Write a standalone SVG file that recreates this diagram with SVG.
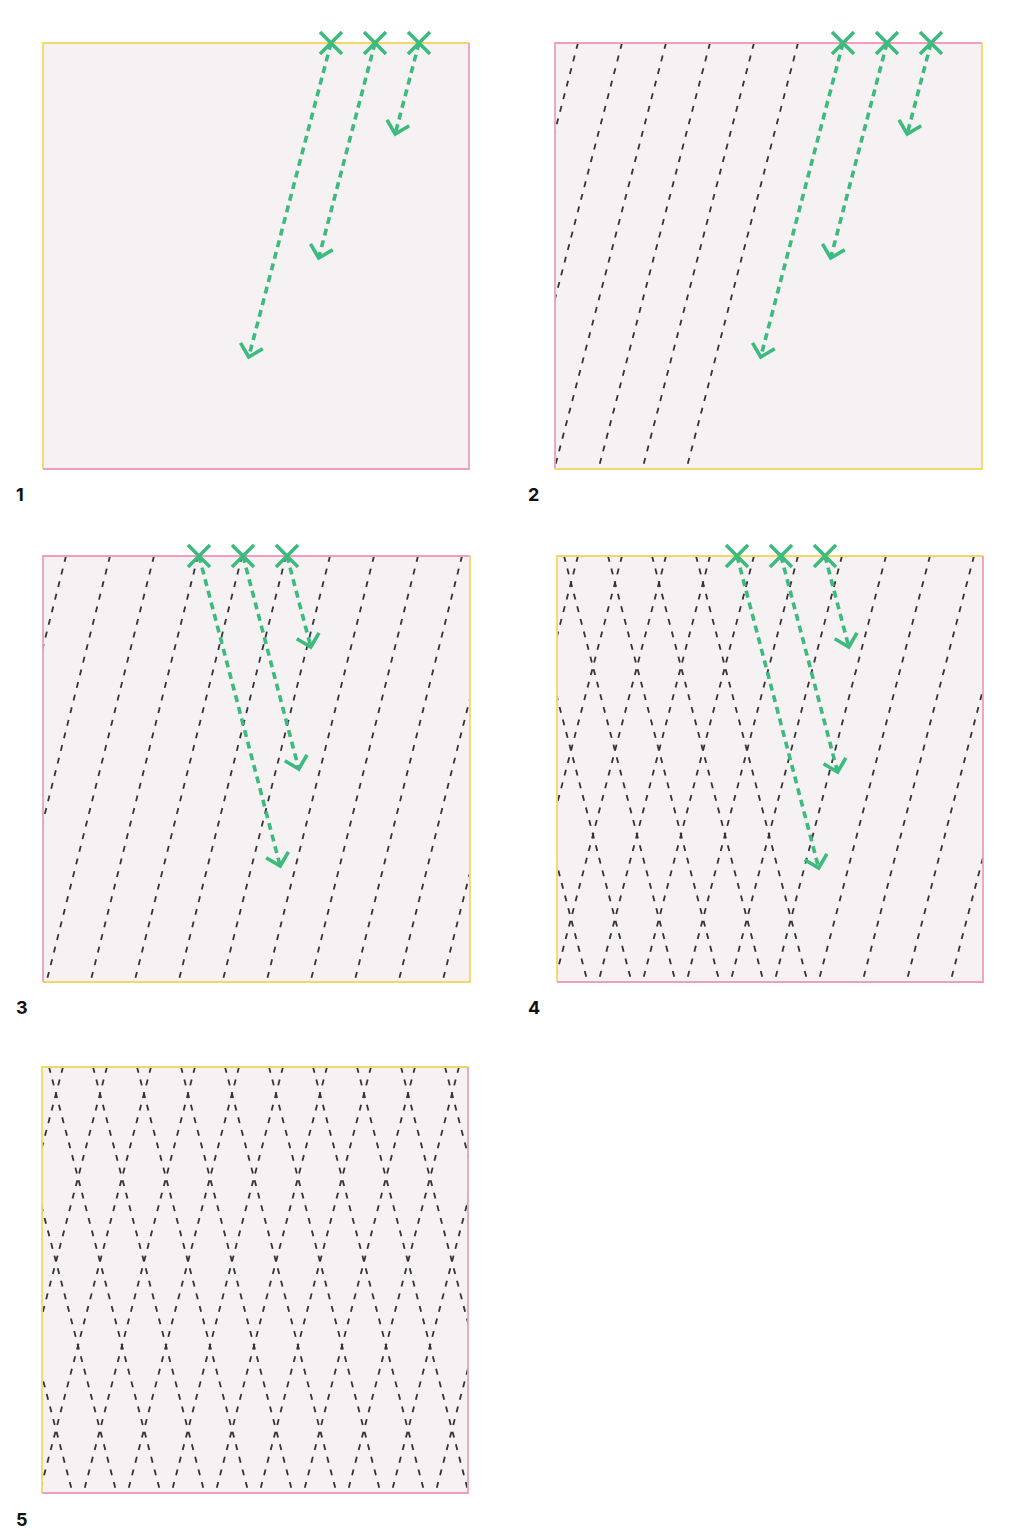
<svg xmlns="http://www.w3.org/2000/svg" xmlns:xlink="http://www.w3.org/1999/xlink" width="1024" height="1536" viewBox="0 0 1024 1536">
<style>
.bg{fill:#f6f2f3;stroke:none}
.y{stroke:#f3d864;stroke-width:1.8;fill:none}
.p{stroke:#ef9ebf;stroke-width:1.8;fill:none}
.d{stroke:#363236;stroke-width:1.8;stroke-dasharray:6 7;fill:none}
.g{stroke:#3dbb7f;stroke-width:3.6;stroke-dasharray:7 5;fill:none;marker-end:url(#chev)}
.x{stroke:#3dbb7f;stroke-width:3.6;fill:none}
.lbl{font-family:Inter,"Liberation Sans",sans-serif;font-weight:700;font-size:18px;fill:#111}
</style>
<defs>
<marker id="chev" viewBox="-16 -16 32 32" markerWidth="32" markerHeight="32" refX="0" refY="0" orient="auto" markerUnits="userSpaceOnUse" overflow="visible">
<path d="M-11.5,-11.5 L0,0 L-11.5,11.5" fill="none" stroke="#3dbb7f" stroke-width="3.6" stroke-dasharray="none"/>
</marker>
<clipPath id="cp" clipPathUnits="userSpaceOnUse"><rect x="0" y="0" width="426" height="426"/></clipPath>
<path id="xm" d="M-11,-11L11,11M11,-11L-11,11"/>
<path id="fwd23" d="M23 0L-84.6 426M67 0L-40.6 426M111 0L3.4 426M155 0L47.4 426M199 0L91.4 426M243 0L135.4 426M287 0L179.4 426M331 0L223.4 426M375 0L267.4 426M419 0L311.4 426M463 0L355.4 426M507 0L399.4 426"/>
<path id="fwd21" d="M21 0L-90.6 426M65 0L-46.6 426M109 0L-2.6 426M153 0L41.4 426M197 0L85.4 426M241 0L129.4 426M285 0L173.4 426M329 0L217.4 426M373 0L261.4 426M417 0L305.4 426M461 0L349.4 426M505 0L393.4 426"/>
</defs>
<rect width="1024" height="1536" fill="#ffffff"/>

<g id="panel1" transform="translate(43,43)">
<rect class="bg" width="426" height="426"/>
<path class="y" d="M0 426V0H426"/>
<path class="p" d="M426 0V426H0"/>
<g id="arrows1">
<path class="g" d="M288 0L205.7 314"/>
<path class="g" d="M332 0L275.7 215"/>
<path class="g" d="M376 0L352.2 91"/>
<use href="#xm" class="x" x="288" y="0"/>
<use href="#xm" class="x" x="332" y="0"/>
<use href="#xm" class="x" x="376" y="0"/>
</g>
</g>
<text class="lbl" x="16" y="501">1</text>

<g id="panel2" transform="translate(555,43)">
<rect class="bg" width="427" height="426"/>
<g clip-path="url(#cp)">
<path class="d" d="M23 0L-88.6 426M67 0L-44.6 426M111 0L-0.6 426M155 0L43.4 426M199 0L87.4 426M243 0L131.4 426"/>
</g>
<path class="p" d="M0 426V0H427"/>
<path class="y" d="M427 0V426H0"/>
<g id="arrows2">
<path class="g" d="M288 0L205.7 314"/>
<path class="g" d="M332 0L275.7 215"/>
<path class="g" d="M376 0L352.2 91"/>
<use href="#xm" class="x" x="288" y="0"/>
<use href="#xm" class="x" x="332" y="0"/>
<use href="#xm" class="x" x="376" y="0"/>
</g>
</g>
<text class="lbl" x="528" y="501">2</text>

<g id="panel3" transform="translate(43,556)">
<rect class="bg" width="427" height="426"/>
<g clip-path="url(#cp)">
<use href="#fwd23" class="d"/>
</g>
<path class="p" d="M0 426V0H427"/>
<path class="y" d="M427 0V426H0"/>
<g id="arrows3">
<path class="g" d="M156 0L237.2 310"/>
<path class="g" d="M200 0L255.8 213"/>
<path class="g" d="M244 0L267.8 91"/>
<use href="#xm" class="x" x="156" y="0"/>
<use href="#xm" class="x" x="200" y="0"/>
<use href="#xm" class="x" x="244" y="0"/>
</g>
</g>
<text class="lbl" x="16" y="1014">3</text>

<g id="panel4" transform="translate(557,556)">
<rect class="bg" width="426" height="426"/>
<g clip-path="url(#cp)">
<use href="#fwd21" class="d"/>
<path class="d" d="M-81 0L30.6 426M-37 0L74.6 426M7 0L118.6 426M51 0L162.6 426M95 0L206.6 426M139 0L250.6 426"/>
</g>
<path class="y" d="M0 426V0H426"/>
<path class="p" d="M426 0V426H0"/>
<g id="arrows4">
<path class="g" d="M180 0L261.7 312"/>
<path class="g" d="M224 0L280.6 216"/>
<path class="g" d="M268 0L291.8 91"/>
<use href="#xm" class="x" x="180" y="0"/>
<use href="#xm" class="x" x="224" y="0"/>
<use href="#xm" class="x" x="268" y="0"/>
</g>
</g>
<text class="lbl" x="528" y="1014">4</text>

<g id="panel5" transform="translate(42,1067)">
<rect class="bg" width="426" height="426"/>
<g clip-path="url(#cp)">
<use href="#fwd21" class="d"/>
<path class="d" d="M-81 0L30.6 426M-37 0L74.6 426M7 0L118.6 426M51 0L162.6 426M95 0L206.6 426M139 0L250.6 426M183 0L294.6 426M227 0L338.6 426M271 0L382.6 426M315 0L426.6 426M359 0L470.6 426M403 0L514.6 426"/>
</g>
<path class="y" d="M0 426V0H426"/>
<path class="p" d="M426 0V426H0"/>
</g>
<text class="lbl" x="16" y="1526">5</text>
</svg>
